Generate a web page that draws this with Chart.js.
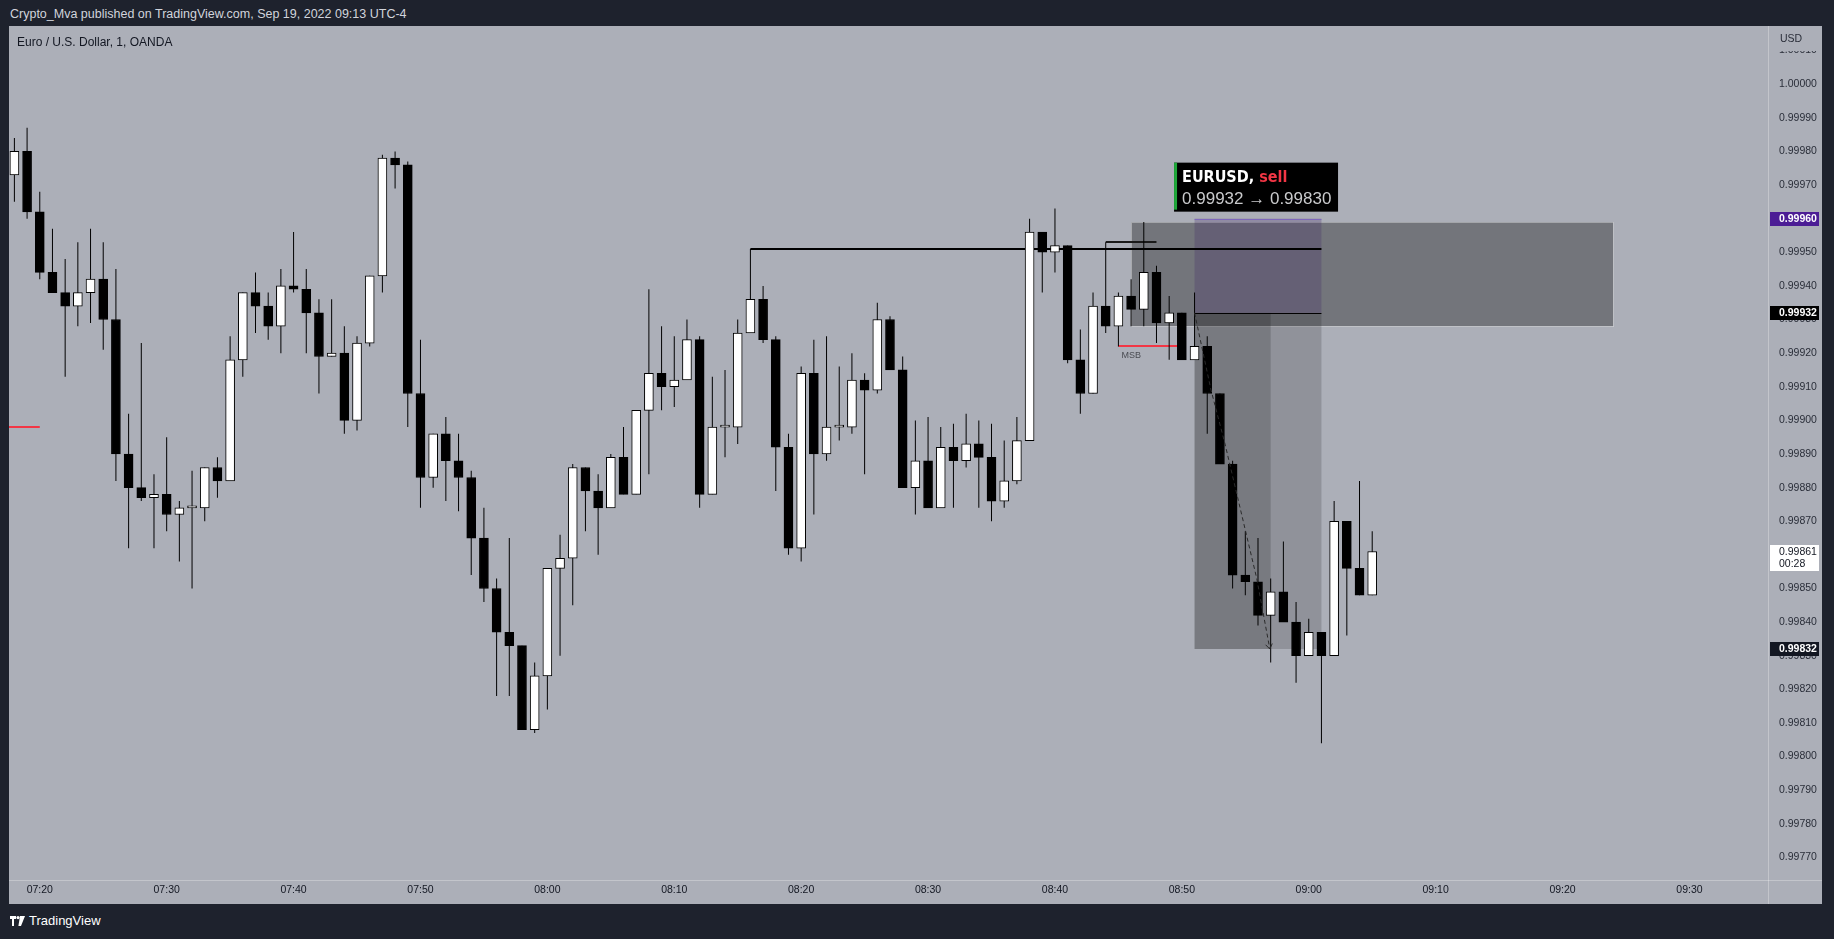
<!DOCTYPE html>
<html>
<head>
<meta charset="utf-8">
<script src="https://cdn.jsdelivr.net/npm/chart.js@4.4.0/dist/chart.umd.min.js"></script>
<style>
html, body { margin: 0; padding: 0; width: 1834px; height: 939px; overflow: hidden; background: #1e222d; font-family: 'Liberation Sans', Arial, sans-serif; }
#hdr { position: absolute; left: 10px; top: 7px; color: #d1d4dc; font-size: 12.5px; line-height: 14px; white-space: nowrap; }
#panel { position: absolute; left: 9px; top: 26px; width: 1813px; height: 878px; background: #acafb8; }
#foot { position: absolute; left: 10px; top: 913px; color: #ffffff; font-size: 13px; line-height: 16px; display: flex; align-items: center; }
#foot svg { margin-right: 4px; }
</style>
</head>
<body>
<div id="hdr">Crypto_Mva published on TradingView.com, Sep 19, 2022 09:13 UTC-4</div>
<div id="panel"><canvas id="eurusd"></canvas></div>
<div id="foot">
	<svg width="15" height="10" viewBox="0 0 15 10"><path d="M0 0h6v3H4v7H2V3H0z" fill="#fff"/><circle cx="8" cy="1.6" r="1.6" fill="#fff"/><path d="M10 0h5l-4 10H8.4z" fill="#fff"/></svg>
	<span>TradingView</span>
</div>
<script>
// EURUSD 1m, OANDA - gia doc tu hinh
const firstBar = '07:18';
const opens = [
	0.99973, 0.99980, 0.99962, 0.99944, 0.99938, 0.99934, 0.99938, 0.99942, 0.99930, 0.99890,
	0.99880, 0.99877, 0.99878, 0.99872, 0.99874, 0.99874, 0.99886, 0.99882, 0.99918, 0.99938,
	0.99934, 0.99928, 0.99940, 0.99939, 0.99932, 0.99919, 0.99920, 0.99900, 0.99923, 0.99943,
	0.99978, 0.99976, 0.99908, 0.99883, 0.99896, 0.99888, 0.99883, 0.99865, 0.99850, 0.99837,
	0.99833, 0.99808, 0.99824, 0.99856, 0.99859, 0.99886, 0.99879, 0.99874, 0.99889, 0.99878,
	0.99903, 0.99914, 0.99910, 0.99912, 0.99924, 0.99878, 0.99898, 0.99898, 0.99926, 0.99936,
	0.99924, 0.99892, 0.99862, 0.99914, 0.99890, 0.99898, 0.99898, 0.99912, 0.99909, 0.99930,
	0.99915, 0.99880, 0.99888, 0.99874, 0.99892, 0.99888, 0.99893, 0.99889, 0.99876, 0.99882,
	0.99894, 0.99956, 0.99950, 0.99952, 0.99918, 0.99908, 0.99934, 0.99928, 0.99937, 0.99933,
	0.99944, 0.99929, 0.99932, 0.99918, 0.99922, 0.99908, 0.99887, 0.99854, 0.99852, 0.99842,
	0.99849, 0.99840, 0.99830, 0.99837, 0.99830, 0.99870, 0.99856, 0.99848
];
const highs = [
	0.99984, 0.99987, 0.99968, 0.99957, 0.99948, 0.99953, 0.99957, 0.99953, 0.99945, 0.99902,
	0.99923, 0.99884, 0.99895, 0.99876, 0.99885, 0.99886, 0.99889, 0.99925, 0.99938, 0.99944,
	0.99938, 0.99945, 0.99956, 0.99945, 0.99936, 0.99936, 0.99928, 0.99925, 0.99943, 0.99979,
	0.99980, 0.99977, 0.99924, 0.99896, 0.99901, 0.99896, 0.99885, 0.99874, 0.99853, 0.99865,
	0.99833, 0.99828, 0.99856, 0.99866, 0.99887, 0.99886, 0.99884, 0.99890, 0.99898, 0.99903,
	0.99939, 0.99928, 0.99925, 0.99930, 0.99925, 0.99913, 0.99915, 0.99930, 0.99951, 0.99940,
	0.99925, 0.99896, 0.99916, 0.99924, 0.99925, 0.99916, 0.99920, 0.99914, 0.99935, 0.99931,
	0.99919, 0.99900, 0.99901, 0.99898, 0.99899, 0.99902, 0.99900, 0.99899, 0.99894, 0.99901,
	0.99960, 0.99956, 0.99963, 0.99952, 0.99927, 0.99938, 0.99953, 0.99938, 0.99942, 0.99959,
	0.99946, 0.99937, 0.99932, 0.99938, 0.99925, 0.99908, 0.99888, 0.99867, 0.99865, 0.99853,
	0.99864, 0.99846, 0.99841, 0.99837, 0.99876, 0.99870, 0.99882, 0.99867
];
const lows = [
	0.99965, 0.99960, 0.99942, 0.99938, 0.99913, 0.99928, 0.99929, 0.99921, 0.99882, 0.99862,
	0.99876, 0.99862, 0.99867, 0.99858, 0.99850, 0.99870, 0.99877, 0.99882, 0.99913, 0.99926,
	0.99924, 0.99920, 0.99938, 0.99920, 0.99908, 0.99919, 0.99896, 0.99897, 0.99922, 0.99938,
	0.99969, 0.99898, 0.99874, 0.99880, 0.99876, 0.99873, 0.99854, 0.99846, 0.99818, 0.99818,
	0.99808, 0.99807, 0.99814, 0.99830, 0.99845, 0.99867, 0.99860, 0.99874, 0.99878, 0.99878,
	0.99884, 0.99903, 0.99904, 0.99912, 0.99874, 0.99878, 0.99889, 0.99893, 0.99926, 0.99923,
	0.99879, 0.99860, 0.99858, 0.99872, 0.99888, 0.99894, 0.99896, 0.99884, 0.99908, 0.99915,
	0.99880, 0.99872, 0.99874, 0.99874, 0.99874, 0.99886, 0.99874, 0.99870, 0.99874, 0.99881,
	0.99894, 0.99938, 0.99944, 0.99917, 0.99902, 0.99908, 0.99926, 0.99922, 0.99928, 0.99928,
	0.99923, 0.99918, 0.99918, 0.99918, 0.99896, 0.99887, 0.99850, 0.99848, 0.99839, 0.99828,
	0.99840, 0.99822, 0.99830, 0.99804, 0.99830, 0.99836, 0.99848, 0.99848
];
const closes = [
	0.99980, 0.99962, 0.99944, 0.99938, 0.99934, 0.99938, 0.99942, 0.99930, 0.99890, 0.99880,
	0.99877, 0.99878, 0.99872, 0.99874, 0.99874, 0.99886, 0.99882, 0.99918, 0.99938, 0.99934,
	0.99928, 0.99940, 0.99939, 0.99932, 0.99919, 0.99920, 0.99900, 0.99923, 0.99943, 0.99978,
	0.99976, 0.99908, 0.99883, 0.99896, 0.99888, 0.99883, 0.99865, 0.99850, 0.99837, 0.99833,
	0.99808, 0.99824, 0.99856, 0.99859, 0.99886, 0.99879, 0.99874, 0.99889, 0.99878, 0.99903,
	0.99914, 0.99910, 0.99912, 0.99924, 0.99878, 0.99898, 0.99898, 0.99926, 0.99936, 0.99924,
	0.99892, 0.99862, 0.99914, 0.99890, 0.99898, 0.99898, 0.99912, 0.99909, 0.99930, 0.99915,
	0.99880, 0.99888, 0.99874, 0.99892, 0.99888, 0.99893, 0.99889, 0.99876, 0.99882, 0.99894,
	0.99956, 0.99950, 0.99952, 0.99918, 0.99908, 0.99934, 0.99928, 0.99937, 0.99933, 0.99944,
	0.99929, 0.99932, 0.99918, 0.99922, 0.99908, 0.99887, 0.99854, 0.99852, 0.99842, 0.99849,
	0.99840, 0.99830, 0.99837, 0.99830, 0.99870, 0.99856, 0.99848, 0.99861
];

// Nhan truc
const timeTicks = ['07:20', '07:30', '07:40', '07:50', '08:00', '08:10', '08:20', '08:30', '08:40', '08:50', '09:00', '09:10', '09:20', '09:30'];
const priceTicks = [
	1.00010, 1.00000, 0.99990, 0.99980, 0.99970, 0.99960, 0.99950, 0.99940, 0.99930, 0.99920,
	0.99910, 0.99900, 0.99890, 0.99880, 0.99870, 0.99860, 0.99850, 0.99840, 0.99830, 0.99820,
	0.99810, 0.99800, 0.99790, 0.99780, 0.99770
];

// Cac hinh ve tren bieu do
const zoneBox = ['08:46', '09:24', 0.99959, 0.99928];
const positionTimes = ['08:51', '08:57', '09:01'];   // bat dau, cham target, ket thuc
const entryPrice = 0.99932;
const stopPrice = 0.99960;
const targetPrice = 0.99832;
const highLine = ['08:16', '09:01', 0.99951];
const bracketLine = ['08:44', '08:48', 0.99953];
const msbLine = ['08:45', '08:50', 0.99922];
const leftRedLine = ['07:20', 0.99898];
const pathTimes = ['08:51', '08:52:18', '08:53:24', '08:54:24', '08:55:54', '08:56:56'];
const pathPrices = [0.99932, 0.99909, 0.99893, 0.99877, 0.99853, 0.99832];
const lastPrice = 0.99861;
const countdown = '00:28';

// phut tinh tu 07:00
function toMin(s) {
	const p = s.split(':');
	return (+p[0]) * 60 + (+p[1]) + (p[2] ? +p[2] / 60 : 0) - 420;
}
function fmtMin(m) {
	const t = m + 420;
	return String(Math.floor(t / 60)).padStart(2, '0') + ':' + String(t % 60).padStart(2, '0');
}

const times = opens.map((_, i) => fmtMin(toMin(firstBar) + i));
const bodyData = times.map((t, i) => ({ x: toMin(t), y: [opens[i], closes[i]] }));
const wickData = times.map((t, i) => ({ x: toMin(t), y: [lows[i], highs[i]] }));
const bodyColors = opens.map((o, i) => closes[i] >= o ? '#ffffff' : '#000000');

const FONT = "'Liberation Sans', Arial, sans-serif";

const drawings = {
	id: 'drawings',
	beforeDatasetsDraw(chart) {
		const { ctx, chartArea: a, scales: { x, y } } = chart;
		const X = t => x.getPixelForValue(toMin(t));
		ctx.save();
		ctx.beginPath();
		ctx.rect(a.left, a.top, a.right - a.left, a.bottom - a.top);
		ctx.clip();

		// vung cung
		const zx1 = X(zoneBox[0]), zx2 = X(zoneBox[1]);
		const zy1 = y.getPixelForValue(zoneBox[2]), zy2 = y.getPixelForValue(zoneBox[3]);
		ctx.fillStyle = 'rgba(0,0,0,0.33)';
		ctx.fillRect(zx1, zy1, zx2 - zx1, zy2 - zy1);
		ctx.strokeStyle = 'rgba(255,255,255,0.35)';
		ctx.lineWidth = 1;
		ctx.strokeRect(Math.round(zx1) + 0.5, Math.round(zy1) + 0.5, Math.round(zx2 - zx1), Math.round(zy2 - zy1));

		// lenh sell
		const px1 = X(positionTimes[0]), pxHit = X(positionTimes[1]), px2 = X(positionTimes[2]);
		const yE = y.getPixelForValue(entryPrice), yS = y.getPixelForValue(stopPrice), yT = y.getPixelForValue(targetPrice);
		ctx.fillStyle = 'rgba(0,0,0,0.16)';
		ctx.fillRect(px1, yE, px2 - px1, yT - yE);
		ctx.fillStyle = 'rgba(0,0,0,0.17)';
		ctx.fillRect(px1, yE, pxHit - px1, yT - yE);
		ctx.fillStyle = 'rgba(60,30,100,0.25)';
		ctx.fillRect(px1, yS, px2 - px1, yE - yS);
		ctx.strokeStyle = 'rgba(120,90,200,0.7)';
		ctx.beginPath();
		ctx.moveTo(px1, Math.round(yS) + 0.5); ctx.lineTo(px2, Math.round(yS) + 0.5);
		ctx.stroke();
		ctx.strokeStyle = '#000';
		ctx.beginPath();
		ctx.moveTo(px1, Math.round(yE) + 0.5); ctx.lineTo(px2, Math.round(yE) + 0.5);
		ctx.stroke();

		// cac duong ngang
		function hline(t1, t2, p, color, w) {
			const yy = Math.round(y.getPixelForValue(p));
			ctx.strokeStyle = color;
			ctx.lineWidth = w;
			ctx.beginPath();
			ctx.moveTo(typeof t1 === 'number' ? t1 : X(t1), yy);
			ctx.lineTo(X(t2), yy);
			ctx.stroke();
		}
		hline(highLine[0], highLine[1], highLine[2], '#000000', 2);
		hline(bracketLine[0], bracketLine[1], bracketLine[2], '#1a1a1a', 2);
		hline(msbLine[0], msbLine[1], msbLine[2], '#f23645', 2);
		hline(a.left, leftRedLine[0], leftRedLine[1], '#f23645', 2);
		ctx.restore();
	},
	afterDatasetsDraw(chart) {
		const { ctx, scales: { x, y } } = chart;
		const X = t => x.getPixelForValue(toMin(t));
		ctx.save();

		// duong di gia (net dut)
		const pts = pathTimes.map((t, i) => [X(t), y.getPixelForValue(pathPrices[i])]);
		ctx.strokeStyle = '#2a2a2a';
		ctx.lineWidth = 1;
		ctx.setLineDash([4, 3]);
		ctx.beginPath();
		pts.forEach((p, i) => i ? ctx.lineTo(p[0], p[1]) : ctx.moveTo(p[0], p[1]));
		ctx.stroke();
		ctx.setLineDash([]);
		const e = pts[pts.length - 1], b = pts[pts.length - 2];
		const ang = Math.atan2(e[1] - b[1], e[0] - b[0]);
		ctx.beginPath();
		ctx.moveTo(e[0] - 6 * Math.cos(ang - 0.6), e[1] - 6 * Math.sin(ang - 0.6));
		ctx.lineTo(e[0], e[1]);
		ctx.lineTo(e[0] - 6 * Math.cos(ang + 0.6), e[1] - 6 * Math.sin(ang + 0.6));
		ctx.stroke();

		// MSB
		ctx.fillStyle = '#4a4c52';
		ctx.font = '9px ' + FONT;
		ctx.textAlign = 'left';
		ctx.textBaseline = 'alphabetic';
		ctx.fillText('MSB', X(msbLine[0]) + 3, y.getPixelForValue(msbLine[2]) + 12);

		// nhan lenh
		const lx = X(positionTimes[0]) - 20.5;
		const ly = y.getPixelForValue(stopPrice) - 56;
		ctx.fillStyle = '#000000';
		ctx.fillRect(lx, ly, 164, 49);
		ctx.fillStyle = '#1fa83a';
		ctx.fillRect(lx, ly, 3, 47);
		ctx.font = "bold 16px 'Liberation Sans Narrow', 'DejaVu Sans Condensed', " + FONT;
		ctx.fillStyle = '#ffffff';
		ctx.fillText('EURUSD,', lx + 8, ly + 19);
		const w1 = ctx.measureText('EURUSD, ').width;
		ctx.fillStyle = '#f23645';
		ctx.fillText('sell', lx + 8 + w1, ly + 19);
		ctx.font = '17px ' + FONT;
		ctx.fillStyle = '#c9cacc';
		ctx.fillText(entryPrice.toFixed(5) + ' \u2192 ' + '0.99830', lx + 8, ly + 41);
		ctx.restore();
	},
	afterDraw(chart) {
		const { ctx, chartArea: a, scales: { y }, width, height } = chart;
		ctx.save();

		// duong phan cach truc
		ctx.strokeStyle = 'rgba(255,255,255,0.28)';
		ctx.lineWidth = 1;
		ctx.beginPath();
		ctx.moveTo(Math.round(a.right) + 0.5, 0); ctx.lineTo(Math.round(a.right) + 0.5, height);
		ctx.moveTo(0, Math.round(a.bottom) + 0.5); ctx.lineTo(width, Math.round(a.bottom) + 0.5);
		ctx.stroke();

		// USD
		ctx.fillStyle = '#acafb8';
		ctx.fillRect(a.right + 1, 0, width - a.right - 1, 25);
		ctx.fillStyle = '#2a2e39';
		ctx.font = '10.5px ' + FONT;
		ctx.textBaseline = 'alphabetic';
		ctx.fillText('USD', a.right + 12, 16);

		// nhan gia tren truc
		function badge(p, bg, fg, lines, bold) {
			const py = y.getPixelForValue(p);
			const h = lines.length > 1 ? 26 : 14;
			ctx.fillStyle = bg;
			ctx.fillRect(a.right + 2, Math.round(py) - 7, 49, h);
			ctx.fillStyle = fg;
			ctx.font = (bold ? 'bold ' : '') + '10.5px ' + FONT;
			ctx.textBaseline = 'middle';
			lines.forEach((s, i) => ctx.fillText(s, a.right + 11, Math.round(py) + i * 12));
		}
		badge(stopPrice, '#4c1d95', '#ffffff', [stopPrice.toFixed(5)], true);
		badge(entryPrice, '#000000', '#ffffff', [entryPrice.toFixed(5)], true);
		badge(lastPrice, '#ffffff', '#131722', [lastPrice.toFixed(5), countdown], false);
		badge(targetPrice, '#131722', '#ffffff', [targetPrice.toFixed(5)], true);

		// tieu de
		ctx.fillStyle = '#131722';
		ctx.font = '12px ' + FONT;
		ctx.textBaseline = 'alphabetic';
		ctx.fillText('Euro / U.S. Dollar, 1, OANDA', 8, 20);
		ctx.restore();
	}
};

const ctx = document.getElementById('eurusd');
new Chart(ctx, {
	type: 'bar',
	data: {
		datasets: [
			{
				label: 'body',
				data: bodyData,
				backgroundColor: bodyColors,
				borderColor: '#000000',
				borderWidth: 1,
				borderSkipped: false,
				barThickness: 9,
				minBarLength: 2,
				grouped: false,
				order: 1
			},
			{
				label: 'wick',
				data: wickData,
				backgroundColor: '#000000',
				borderWidth: 0,
				barThickness: 1,
				inflateAmount: 0,
				grouped: false,
				order: 2
			}
		]
	},
	options: {
		responsive: true,
		maintainAspectRatio: false,
		animation: false,
		layout: { padding: 0 },
		plugins: {
			legend: { display: false },
			tooltip: { enabled: false }
		},
		scales: {
			x: {
				type: 'linear',
				offset: false,
				min: 17.575,
				max: 156.19,
				grid: { display: false, drawTicks: false },
				border: { display: false },
				afterBuildTicks: s => { s.ticks = timeTicks.map(t => ({ value: toMin(t) })); },
				afterFit: s => { s.height = 24; s.paddingLeft = 0; s.paddingRight = 0; },
				ticks: {
					autoSkip: false,
					maxRotation: 0,
					padding: 4,
					color: '#131722',
					font: { size: 10.5, family: FONT },
					callback: (v, i) => timeTicks[i]
				}
			},
			y: {
				type: 'linear',
				position: 'right',
				beginAtZero: false,
				min: 0.997633,
				max: 1.000173,
				grid: { display: false, drawTicks: false },
				border: { display: false },
				afterBuildTicks: s => { s.ticks = priceTicks.map(v => ({ value: v })); },
				afterFit: s => { s.width = 54; s.paddingTop = 0; s.paddingBottom = 0; },
				ticks: {
					padding: 11,
					color: '#2a2e39',
					font: { size: 10.5, family: FONT },
					callback: (v, i) => priceTicks[i].toFixed(5)
				}
			}
		}
	},
	plugins: [drawings]
});
</script>
</body>
</html>
